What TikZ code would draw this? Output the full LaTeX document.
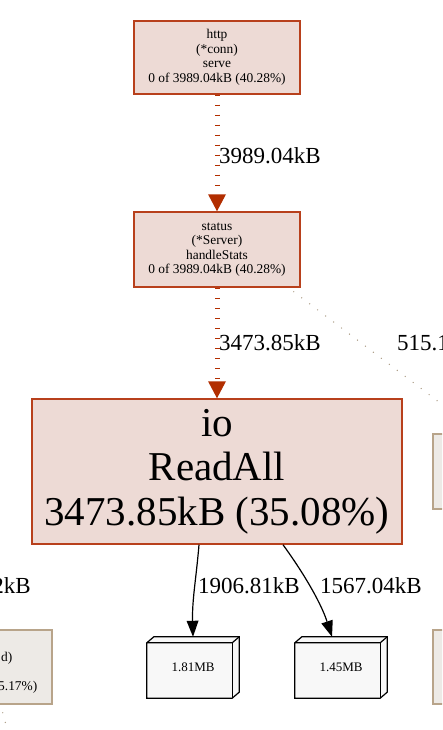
\documentclass[tikz,border=0pt]{standalone}
\usepackage{fontspec}
\setmainfont{Liberation Serif}
\usetikzlibrary{arrows.meta,calc}
\definecolor{redfill}{HTML}{EDDAD5}
\definecolor{redline}{HTML}{B8401C}
\definecolor{redEdge}{HTML}{B22E00}
\definecolor{grayfill}{HTML}{EDEAE6}
\definecolor{grayline}{HTML}{B8A48A}
\definecolor{grayedge}{HTML}{A89880}
\definecolor{boxfill}{HTML}{F8F8F8}
\begin{document}
\begin{tikzpicture}[x=1pt,y=-1pt,
  hotnode/.style={draw=redline, fill=redfill, line width=1.5pt, inner sep=0pt, align=center,
    font=\fontsize{13.4}{14.5}\selectfont},
  bignode/.style={hotnode, font=\fontsize{41}{44.5}\selectfont},
  coldnode/.style={draw=grayline, fill=grayfill, line width=1.5pt, inner sep=0pt},
  memnode/.style={inner sep=0pt, minimum width=92pt, minimum height=61pt,
    font=\fontsize{13}{14}\selectfont},
  boxline/.style={draw=black, line width=1.2pt, line join=miter},
  hotedge/.style={draw=redEdge, line width=5pt, dash pattern=on 1.5pt off 8.5pt,
    -{Triangle[width=18pt,length=17pt,line width=0pt]}, redEdge},
  coldedge/.style={draw=grayedge, line width=1.4pt, line cap=round, dash pattern=on 0pt off 10pt},
  memedge/.style={draw=black, line width=1.2pt, -{Triangle[width=12pt,length=16pt,line width=0pt]}},
  elabel/.style={inner sep=0pt, font=\fontsize{23}{27}\selectfont},
  smalltext/.style={inner sep=0pt, font=\fontsize{13.4}{14.5}\selectfont}]
\clip (0,0) rectangle (442,730);
\fill[white] (0,0) rectangle (442,730);

% main nodes
\node[hotnode, minimum width=166pt, minimum height=73pt] (http) at (217,57.5)
  {http\\(*conn)\\serve\\0 of 3989.04kB (40.28\%)};
\node[hotnode, minimum width=166pt, minimum height=75pt] (handle) at (217,249.5)
  {status\\(*Server)\\handleStats\\0 of 3989.04kB (40.28\%)};
\node[bignode, minimum width=370pt, minimum height=145pt] (io) at (217,471.5)
  {io\\ReadAll\\3473.85kB (35.08\%)};

% partially visible neighbour nodes
\node[coldnode, minimum width=94pt, minimum height=75pt] (gA) at (480,471.5) {};
\node[coldnode, minimum width=94pt, minimum height=74pt] (gB) at (480,667) {};
\node[coldnode, minimum width=120pt, minimum height=74pt] (gL) at (-8,667) {};
\node[smalltext, anchor=base east] (gLa) at (12.5,661.5) {d)};
\node[smalltext, anchor=base east] (gLb) at (37.5,690.5) {5.17\%)};

% box3d memory nodes
\node[memnode] (b1) at (193,667.5) {};
\node[memnode] (b2) at (341,667.5) {};
\foreach \b in {b1,b2}{
  \path[boxline, fill=boxfill] (\b.south west) -- ($(\b.north west)+(0,6)$) -- ($(\b.north west)+(7,0)$)
    -- (\b.north east) -- ($(\b.south east)+(0,-6)$) -- ($(\b.south east)+(-7,0)$) -- cycle;
  \draw[boxline] ($(\b.north west)+(0,6)$) -- ($(\b.north east)+(-7,6)$) -- (\b.north east);
  \draw[boxline] ($(\b.north east)+(-7,6)$) -- ($(\b.south east)+(-7,0)$);
}
\node[memnode] (b1t) at (b1) {1.81MB};
\node[memnode] (b2t) at (b2) {1.45MB};

% edges
\draw[hotedge] (http.south) -- (handle.north);
\draw[hotedge] (handle.south) -- (io.north);
\draw[coldedge] ($(handle.south east)+(-7,4)$) -- (gA.north);
\draw[coldedge] ($(gL.south east)+(-50,8)$) -- ++(8,30);
\draw[memedge] ($(io.south)+(-18,0)$) .. controls (196,580) and (192,600) .. (b1.north);
\draw[memedge] ($(io.south)+(66,0)$) .. controls (300,568) and (320,600) .. ($(b2.north)+(-9,0)$);

% edge labels
\node[elabel, anchor=base west] (l1) at (219,163.5) {3989.04kB};
\node[elabel, anchor=base west] (l2) at (219,350) {3473.85kB};
\node[elabel, anchor=base west] (l3) at (397,350) {515.19kB};
\node[elabel, anchor=base west] (l4) at (198,593) {1906.81kB};
\node[elabel, anchor=base west] (l5) at (320,593) {1567.04kB};
\node[elabel, anchor=base east] (l6) at (31,593) {2kB};
\end{tikzpicture}
\end{document}
